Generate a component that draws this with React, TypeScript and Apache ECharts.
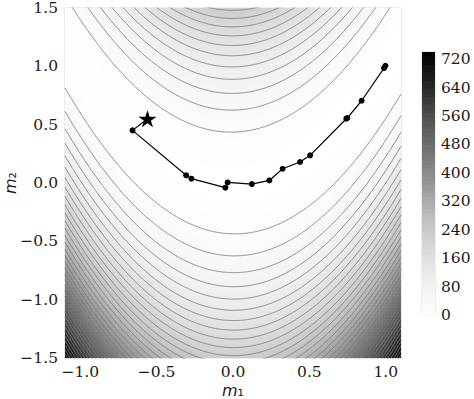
import React, { useEffect, useRef } from 'react';
import * as echarts from 'echarts';

// ---- data ----
const xTicks = [-1.0, -0.5, 0.0, 0.5, 1.0];
const yTicks = [-1.5, -1.0, -0.5, 0.0, 0.5, 1.0, 1.5];
const colorbarTicks = [0, 80, 160, 240, 320, 400, 480, 560, 640, 720];
const contourLevels = [20, 40, 60, 80, 100, 120, 140, 160, 180, 200, 220, 240, 260, 280, 300, 320, 340, 360, 380, 400, 420, 440, 460, 480, 500, 520, 540, 560, 580, 600, 620, 640, 660, 680, 700, 720];
const startPoint = [-0.56, 0.55];
const pathM1 = [-0.658, -0.307, -0.272, -0.05, -0.035, 0.123, 0.238, 0.325, 0.439, 0.505, 0.742, 0.748, 0.842, 0.989, 0.998];
const pathM2 = [0.451, 0.066, 0.037, -0.04, 0.005, -0.009, 0.022, 0.122, 0.18, 0.237, 0.551, 0.557, 0.705, 0.985, 1.005];
const greysStops = [255, 240, 217, 189, 150, 115, 82, 37, 0];
const xRange = [-1.1, 1.1];
const yRange = [-1.5, 1.5];
const colorMax = 740;

// Rosenbrock loss surface shown in the picture
const loss = (x: number, y: number) => (1 - x) * (1 - x) + 100 * (y - x * x) * (y - x * x);

const greyColor = (v: number) => {
  let t = Math.max(0, Math.min(1, v / colorMax)) * (greysStops.length - 1);
  const i = Math.min(greysStops.length - 2, Math.floor(t));
  const f = t - i;
  const g = Math.round(greysStops[i] + (greysStops[i + 1] - greysStops[i]) * f);
  return `rgb(${g},${g},${g})`;
};

const STAR = 'path://M50 0 L61.23 34.55 L97.55 34.55 L68.17 55.9 L79.39 90.45 L50 69.1 L20.61 90.45 L31.83 55.9 L2.45 34.55 L38.77 34.55 Z';
const FONT = 'DejaVu Serif';
const fmt = (v: number) => v.toFixed(1).replace('-', '\u2212');

export default function App() {
  const ref = useRef<HTMLDivElement>(null);
  useEffect(() => {
    if (!ref.current) return;
    const chart = echarts.init(ref.current, undefined, { renderer: 'svg' });

    // field cells
    const NX = 112, NY = 117;
    const dx = (xRange[1] - xRange[0]) / NX;
    const dy = (yRange[1] - yRange[0]) / NY;
    const cells: number[][] = [];
    for (let i = 0; i < NX; i++) {
      for (let j = 0; j < NY; j++) {
        const x0 = xRange[0] + i * dx, y0 = yRange[0] + j * dy;
        cells.push([x0, y0, x0 + dx, y0 + dy, loss(x0 + dx / 2, y0 + dy / 2)]);
      }
    }

    // contour lines (two branches of each level set)
    const contourSeries: any[] = [];
    const xs: number[] = [];
    for (let k = 0; k <= 440; k++) xs.push(xRange[0] + k * 0.005);
    contourLevels.forEach((L) => {
      [1, -1].forEach((s) => {
        const pts = xs.map((x) => [x, x * x + s * Math.sqrt((L - (1 - x) * (1 - x)) / 100)]);
        if (!pts.some((p) => p[1] >= yRange[0] && p[1] <= yRange[1])) return;
        contourSeries.push({
          type: 'line', xAxisIndex: 0, yAxisIndex: 0, data: pts, showSymbol: false, symbol: 'none',
          clip: true, silent: true, lineStyle: { color: '#7a7a7a', width: 0.85 },
        });
      });
    });

    // colorbar strips
    const strips: number[][] = [];
    for (let v = 0; v < colorMax; v += 5) strips.push([v, v + 5]);

    const pathData: any[] = [{ value: startPoint, symbol: 'none' }];
    pathM1.forEach((x, i) => pathData.push([x, pathM2[i]]));

    const axisLabelStyle = { fontFamily: FONT, fontSize: 15.5, color: '#1a1a1a' };
    const nameRich = {
      m: { fontFamily: 'DejaVu Sans', fontStyle: 'italic', fontSize: 16, color: '#1a1a1a' },
      s: { fontFamily: 'DejaVu Sans', fontSize: 16, color: '#1a1a1a' },
    };

    chart.setOption({
      animation: false,
      grid: [
        { left: 65, top: 8, width: 336, height: 350, show: true, borderColor: '#d8d8d8', borderWidth: 1, backgroundColor: 'transparent', containLabel: false, outerBoundsMode: 'none' },
        { left: 422, top: 52, width: 13, height: 263, show: true, borderColor: '#dcdcdc', borderWidth: 1, containLabel: false, outerBoundsMode: 'none' },
      ],
      xAxis: [
        {
          type: 'value', gridIndex: 0, min: xRange[0], max: xRange[1],
          axisLine: { show: false }, axisTick: { show: false }, splitLine: { show: false },
          axisLabel: { ...axisLabelStyle, margin: 6, customValues: xTicks, formatter: fmt },
          name: '{m|m}{s|\u2081}', nameLocation: 'middle', nameGap: 24, nameMoveOverlap: false,
          nameTextStyle: { rich: nameRich },
        },
        { type: 'value', gridIndex: 1, min: 0, max: 1, show: false },
      ],
      yAxis: [
        {
          type: 'value', gridIndex: 0, min: yRange[0], max: yRange[1],
          axisLine: { show: false }, axisTick: { show: false }, splitLine: { show: false },
          axisLabel: { ...axisLabelStyle, margin: 7, customValues: yTicks, formatter: fmt },
          name: '{m|m}{s|\u2082}', nameLocation: 'middle', nameGap: 47, nameMoveOverlap: false,
          nameTextStyle: { rich: nameRich },
        },
        {
          type: 'value', gridIndex: 1, min: 0, max: colorMax, position: 'right',
          axisLine: { show: false }, axisTick: { show: false }, splitLine: { show: false },
          axisLabel: { ...axisLabelStyle, margin: 6, customValues: colorbarTicks, formatter: (v: number) => String(v) },
        },
      ],
      series: [
        {
          type: 'custom', xAxisIndex: 0, yAxisIndex: 0, data: cells, silent: true, clip: true, progressive: 0,
          renderItem: (params: any, api: any) => {
            const p0 = api.coord([api.value(0), api.value(3)]);
            const p1 = api.coord([api.value(2), api.value(1)]);
            return {
              type: 'rect',
              shape: { x: p0[0], y: p0[1], width: p1[0] - p0[0] + 0.6, height: p1[1] - p0[1] + 0.6 },
              style: { fill: greyColor(api.value(4)) },
            };
          },
        },
        ...contourSeries,
        {
          type: 'line', xAxisIndex: 0, yAxisIndex: 0, data: pathData, symbol: 'circle', symbolSize: 6, showSymbol: true,
          itemStyle: { color: '#000' }, lineStyle: { color: '#000', width: 1.2 }, clip: false, z: 5,
        },
        {
          type: 'scatter', xAxisIndex: 0, yAxisIndex: 0, data: [startPoint], symbol: STAR, symbolSize: [18, 17],
          itemStyle: { color: '#000', opacity: 1 }, z: 6,
        },
        {
          type: 'custom', xAxisIndex: 1, yAxisIndex: 1, data: strips, silent: true, progressive: 0,
          renderItem: (params: any, api: any) => {
            const p0 = api.coord([0, api.value(1)]);
            const p1 = api.coord([1, api.value(0)]);
            return {
              type: 'rect',
              shape: { x: p0[0], y: p0[1], width: p1[0] - p0[0], height: p1[1] - p0[1] + 0.6 },
              style: { fill: greyColor((api.value(0) + api.value(1)) / 2) },
            };
          },
        },
      ],
    });
    return () => chart.dispose();
  }, []);
  return <div ref={ref} style={{ position: 'fixed', left: 0, top: 0, width: 474, height: 399, background: '#fff' }} />;
}
